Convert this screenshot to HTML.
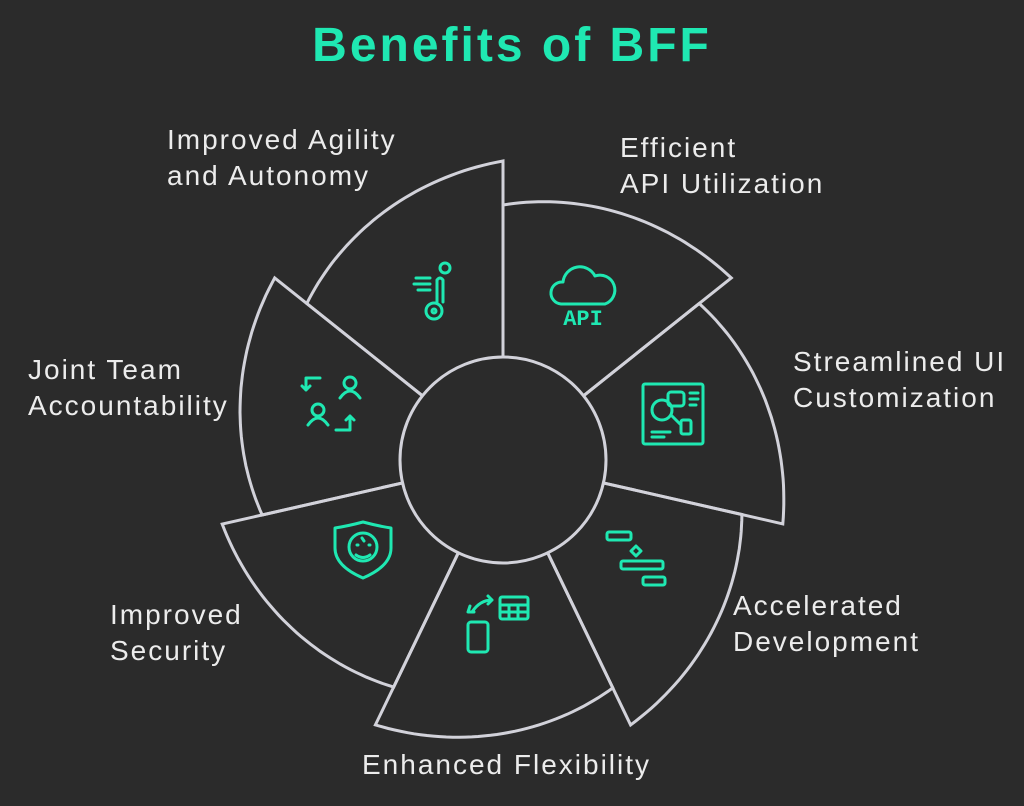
<!DOCTYPE html>
<html><head><meta charset="utf-8">
<style>
html,body{margin:0;padding:0;background:#2b2b2b;}
#c{position:relative;width:1024px;height:806px;overflow:hidden;background:#2b2b2b;font-family:"Liberation Sans",sans-serif;}
.t{position:absolute;color:#ececec;font-size:28px;line-height:36px;letter-spacing:2px;white-space:nowrap;}
h1{position:absolute;left:0;width:1024px;top:18px;margin:0;text-align:center;color:#1fe8b2;font-size:48px;font-weight:bold;letter-spacing:3px;}
svg{position:absolute;left:0;top:0;}
</style></head><body>
<div id="c">
<h1>Benefits of BFF</h1>
<svg id="s" width="1024" height="806" viewBox="0 0 1024 806">
<g id="segs" fill="none" stroke="#d2d2da" stroke-width="3" stroke-linejoin="miter"></g>
<circle cx="503" cy="460" r="103" fill="#2b2b2b" stroke="#d2d2da" stroke-width="3"/>
<g fill="none" stroke="#1fe8b2" stroke-width="3" stroke-linecap="round" stroke-linejoin="round">
<!-- API -->
<path d="M561 304 a11 11 0 0 1 2 -22 a17 17 0 0 1 32 -6 a13 13 0 0 1 10 28 z"/>
<text x="583" y="325" fill="#1fe8b2" stroke="none" font-size="22" font-family="Liberation Mono,monospace" font-weight="bold" text-anchor="middle">API</text>
<!-- UI -->
<rect x="643" y="384" width="60" height="60" rx="2"/>
<circle cx="662" cy="410" r="10"/>
<rect x="668" y="392" width="16" height="14" rx="3"/>
<path d="M672 416 l8 8"/><rect x="681" y="420" width="10" height="14" rx="2"/>
<path d="M690 393 h8 M690 399 h8 M690 405 h6 M652 432 h18 M652 437 h12"/>
<!-- Accelerated -->
<rect x="607" y="532" width="24" height="8" rx="2"/>
<path d="M636 546 l5 5 l-5 5 l-5 -5z"/>
<rect x="621" y="561" width="42" height="8" rx="2"/>
<rect x="643" y="577" width="22" height="8" rx="2"/>
<!-- Flexibility -->
<rect x="468" y="622" width="20" height="30" rx="3"/>
<rect x="500" y="597" width="28" height="22" rx="2"/>
<path d="M500 605 h28 M500 612 h28 M509 605 v14 M518 605 v14"/>
<path d="M472 612 q8 -12 20 -12 M488 596 l4 4 l-4 4 M470 606 l-2 6 l6 0"/>
<!-- Security -->
<path d="M363 522 q-15 4 -28 6 v20 q0 18 28 30 q28 -12 28 -30 v-20 q-13 -2 -28 -6z"/>
<circle cx="363" cy="547" r="14"/>
<path d="M356 555 q7 5 14 0 M357 545 h1 M369 545 h1 M362 538 l2 3"/>
<!-- Joint -->
<path d="M320 378 h-14 v12 M306 390 l-4 -4 M306 390 l4 -4"/>
<circle cx="350" cy="383" r="6"/><path d="M340 398 q10 -14 20 0"/>
<circle cx="318" cy="410" r="6"/><path d="M308 425 q10 -14 20 0"/>
<path d="M336 430 h14 v-14 M350 416 l-4 4 M350 416 l4 4"/>
<!-- Agility -->
<circle cx="445" cy="268" r="5"/>
<path d="M437 280 q3 -4 6 0 v22 M437 280 v22"/>
<circle cx="434" cy="311" r="8"/><circle cx="434" cy="311" r="2"/>
<path d="M416 278 h14 M414 284 h16 M418 290 h12"/>
</g>
</svg>
<div class="t" style="left:167px;top:122px">Improved Agility<br>and Autonomy</div>
<div class="t" style="left:620px;top:130px">Efficient<br>API Utilization</div>
<div class="t" style="left:793px;top:344px">Streamlined UI<br>Customization</div>
<div class="t" style="left:28px;top:352px">Joint Team<br>Accountability</div>
<div class="t" style="left:733px;top:588px">Accelerated<br>Development</div>
<div class="t" style="left:110px;top:597px">Improved<br>Security</div>
<div class="t" style="left:362px;top:747px">Enhanced Flexibility</div>
</div>
<script>
(function(){
var cx=503,cy=460,ri=103,step=360/7;
var R=[[255,292],[251,287],[245,294],[253,294],[252,288],[247,292],[251,299]];
var g=document.getElementById('segs'),ns='http://www.w3.org/2000/svg';
function P(a,r){var t=a*Math.PI/180;return (cx+r*Math.cos(t)).toFixed(1)+' '+(cy+r*Math.sin(t)).toFixed(1);}
for(var k=0;k<7;k++){
 var a0=-90+k*step,a1=a0+step,rs=R[k][0],re=R[k][1];
 var d='M'+P(a0,ri)+' L'+P(a0,rs);
 for(var i=1;i<=40;i++){var f=i/40;d+=' L'+P(a0+f*step,rs+(re-rs)*f);}
 d+=' L'+P(a1,ri);
 var p=document.createElementNS(ns,'path');p.setAttribute('d',d);g.appendChild(p);
}
})();
</script>
</body></html>
